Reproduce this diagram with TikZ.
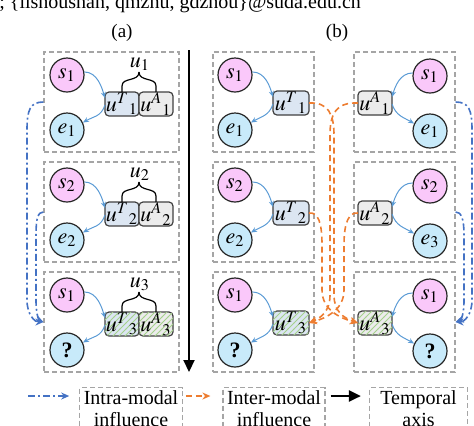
\documentclass[tikz,border=0pt]{standalone}
\usepackage{mathptmx}
\usepackage{fontspec}
\setmainfont{Liberation Serif}
\usepackage{tikz}
\usetikzlibrary{arrows.meta,patterns,positioning}
\definecolor{spink}{RGB}{250,200,250}
\definecolor{eblue}{RGB}{200,234,250}
\definecolor{tfill}{RGB}{220,230,242}
\definecolor{afill}{RGB}{236,236,236}
\definecolor{hatchgreen}{RGB}{165,210,140}
\definecolor{flowblue}{RGB}{91,155,213}
\definecolor{intrablue}{RGB}{68,114,196}
\definecolor{interorange}{RGB}{237,125,49}
\definecolor{framegray}{RGB}{165,165,165}
\tikzset{
  panel/.style={draw=framegray,dash pattern=on 2.5pt off 1.5pt,line width=0.6pt,minimum height=50pt,inner sep=0pt},
  snode/.style={circle,draw=black!85,line width=0.6pt,fill=spink,minimum size=17pt,inner sep=0pt,font=\fontsize{11}{11}\selectfont},
  enode/.style={snode,fill=eblue},
  ubox/.style={rounded corners=2pt,draw=black!75,line width=0.6pt,minimum width=17pt,minimum height=12pt,inner sep=0pt,outer sep=0pt,font=\fontsize{11}{11}\selectfont},
  plain/.style={},
  hatched/.style={postaction={pattern=north east lines,pattern color=hatchgreen}},
  flowarr/.style={draw=flowblue,line width=0.5pt,-{Stealth[length=3pt,width=2.5pt]}},
  intraarr/.style={draw=intrablue,line width=0.8pt,dash pattern=on 3.5pt off 1.5pt on 1pt off 1.5pt,-{Stealth[length=4pt,width=3.5pt]}},
  interarr/.style={draw=interorange,line width=0.8pt,dash pattern=on 3pt off 2pt,-{Stealth[length=4pt,width=3.5pt]}},
  timearr/.style={draw=black,line width=1pt,-{Triangle[length=6pt,width=5.5pt]}},
  legbox/.style={draw=framegray,dash pattern=on 2.5pt off 1.5pt,line width=0.6pt,anchor=north,align=center,minimum width=49pt,inner xsep=2pt,inner ysep=1.5pt,font=\fontsize{10}{11}\selectfont}
}
\begin{document}
\begin{tikzpicture}[x=0.5pt,y=-0.5pt,font=\fontsize{9.5}{11}\selectfont]
  \useasboundingbox (0,0) rectangle (474,425);
  \clip (0,0) rectangle (474,425);
  % cut-off line above the figure
  \node[anchor=base west,inner sep=0pt,font=\fontsize{10}{10}\selectfont] (addr) at (-1,8) {; \{lishoushan, qmzhu, gdzhou\}@suda.edu.cn};
  \node (capa) at (122,33) {(a)};
  \node (capb) at (337,33) {(b)};
  % panels
  \foreach \i/\T/\s/\e/\f/\hs in {1/52/s_1/e_1/e_1/plain,2/162/s_2/e_2/e_3/plain,3/272/s_1/\textbf{?}/\textbf{?}/hatched}{
    % (a)
    \node[panel,minimum width=67.5pt] (pa\i) at (111.5,\T+50) {};
    \node[snode] (sa\i) at (67,\T+23) {$\s$};
    \node[enode] (ea\i) at (67,\T+78) {$\e$};
    \node[ubox,fill=tfill,\hs] (uta\i) at (122,\T+52) {${u^{T}}_{\i}$};
    \node[ubox,fill=afill,\hs] (uaa\i) at (156,\T+52) {${u^{A}}_{\i}$};
    \coordinate (pk\i) at (139,\T+20);
    \draw[line width=0.6pt] (uta\i.north) -- ++(0,-6) .. controls +(0,-9) and (139,\T+30) .. (pk\i);
    \draw[line width=0.6pt] (uaa\i.north) -- ++(0,-6) .. controls +(0,-9) and (139,\T+30) .. (pk\i);
    \node (ul\i) at (140,\T+12) {\fontsize{11}{11}\selectfont$u_{\i}$};
    \draw[flowarr] (sa\i.10) .. controls +(13,0) and +(-3,-10) .. ([yshift=3pt]uta\i.west);
    \draw[flowarr] ([yshift=-0.5pt]uta\i.west) .. controls +(-4,12) and +(10,-6) .. (ea\i.25);
    % (b), text side
    \node[panel,minimum width=50.5pt] (pbl\i) at (263.5,\T+50) {};
    \node[snode] (sbl\i) at (235,\T+23) {$\s$};
    \node[enode] (ebl\i) at (235,\T+78) {$\e$};
    \node[ubox,fill=tfill,minimum width=18pt,\hs] (utb\i) at (291,\T+51) {${u^{T}}_{\i}$};
    \draw[flowarr] (sbl\i.10) .. controls +(13,0) and +(-3,-10) .. ([yshift=3pt]utb\i.west);
    \draw[flowarr] ([yshift=-0.5pt]utb\i.west) .. controls +(-4,12) and +(10,-6) .. (ebl\i.25);
    % (b), audio side
    \node[panel,minimum width=50.5pt] (pbr\i) at (404.5,\T+50) {};
    \node[snode] (sbr\i) at (430,\T+24) {$\s$};
    \node[enode] (ebr\i) at (430,\T+79) {$\f$};
    \node[ubox,fill=afill,minimum width=17pt,\hs] (uab\i) at (375,\T+51) {${u^{A}}_{\i}$};
    \draw[flowarr] (sbr\i.170) .. controls +(-13,0) and +(3,-10) .. ([yshift=3pt]uab\i.east);
    \draw[flowarr] ([yshift=-0.5pt]uab\i.east) .. controls +(4,12) and +(-10,-6) .. (ebr\i.155);
  }
  % temporal axis
  \coordinate (ttop) at (189,50);
  \coordinate (tbot) at (189,372);
  \draw[timearr] (ttop) -- (tbot);
  % intra-modal influence
  \draw[intraarr] (pa1.west) .. controls (30,102) and (27,110) .. (27,130) -- (27,300) .. controls (27,315) and (35,322) .. (pa3.west);
  \draw[intraarr] (pa2.west) .. controls (38,212) and (36,218) .. (36,235) -- (36,300) .. controls (36,315) and (39,320) .. (pa3.west);
  \draw[intraarr] (pbr1.east) .. controls (469,102) and (472,110) .. (472,130) -- (472,300) .. controls (472,315) and (464,322) .. (pbr3.east);
  \draw[intraarr] (pbr2.east) .. controls (461,212) and (464,218) .. (464,235) -- (464,300) .. controls (464,315) and (461,320) .. (pbr3.east);
  % inter-modal influence
  \draw[interarr] (utb1.east) .. controls (328,102) and (334,114) .. (334,135) -- (334,295) .. controls (334,312) and (344,318) .. (uab3.west);
  \draw[interarr] (uab1.west) .. controls (336,102) and (330,114) .. (330,135) -- (330,295) .. controls (330,312) and (320,318) .. (utb3.east);
  \draw[interarr] (utb2.east) .. controls (318,212) and (322,222) .. (322,245) -- (322,290) .. controls (322,310) and (340,318) .. (uab3.west);
  \draw[interarr] (uab2.west) .. controls (349,212) and (344,222) .. (344,245) -- (344,290) .. controls (344,310) and (326,318) .. (utb3.east);
  % legend
  \node[legbox] (kintra) at (131,387) {Intra-modal\\influence};
  \node[legbox] (kinter) at (274,387) {Inter-modal\\influence};
  \node[legbox] (ktemp) at (418.5,387) {Temporal\\axis};
  \coordinate (kstart) at (28,396);
  \draw[intraarr,shorten >=5pt] (kstart) -- (kstart -| kintra.west);
  \draw[interarr,shorten <=1.5pt,shorten >=6pt] (kintra.east |- kstart) -- (kinter.west |- kstart);
  \draw[timearr,line width=1.2pt,shorten <=2.5pt,shorten >=4pt] (kinter.east |- kstart) -- (ktemp.west |- kstart);
\end{tikzpicture}
\end{document}
